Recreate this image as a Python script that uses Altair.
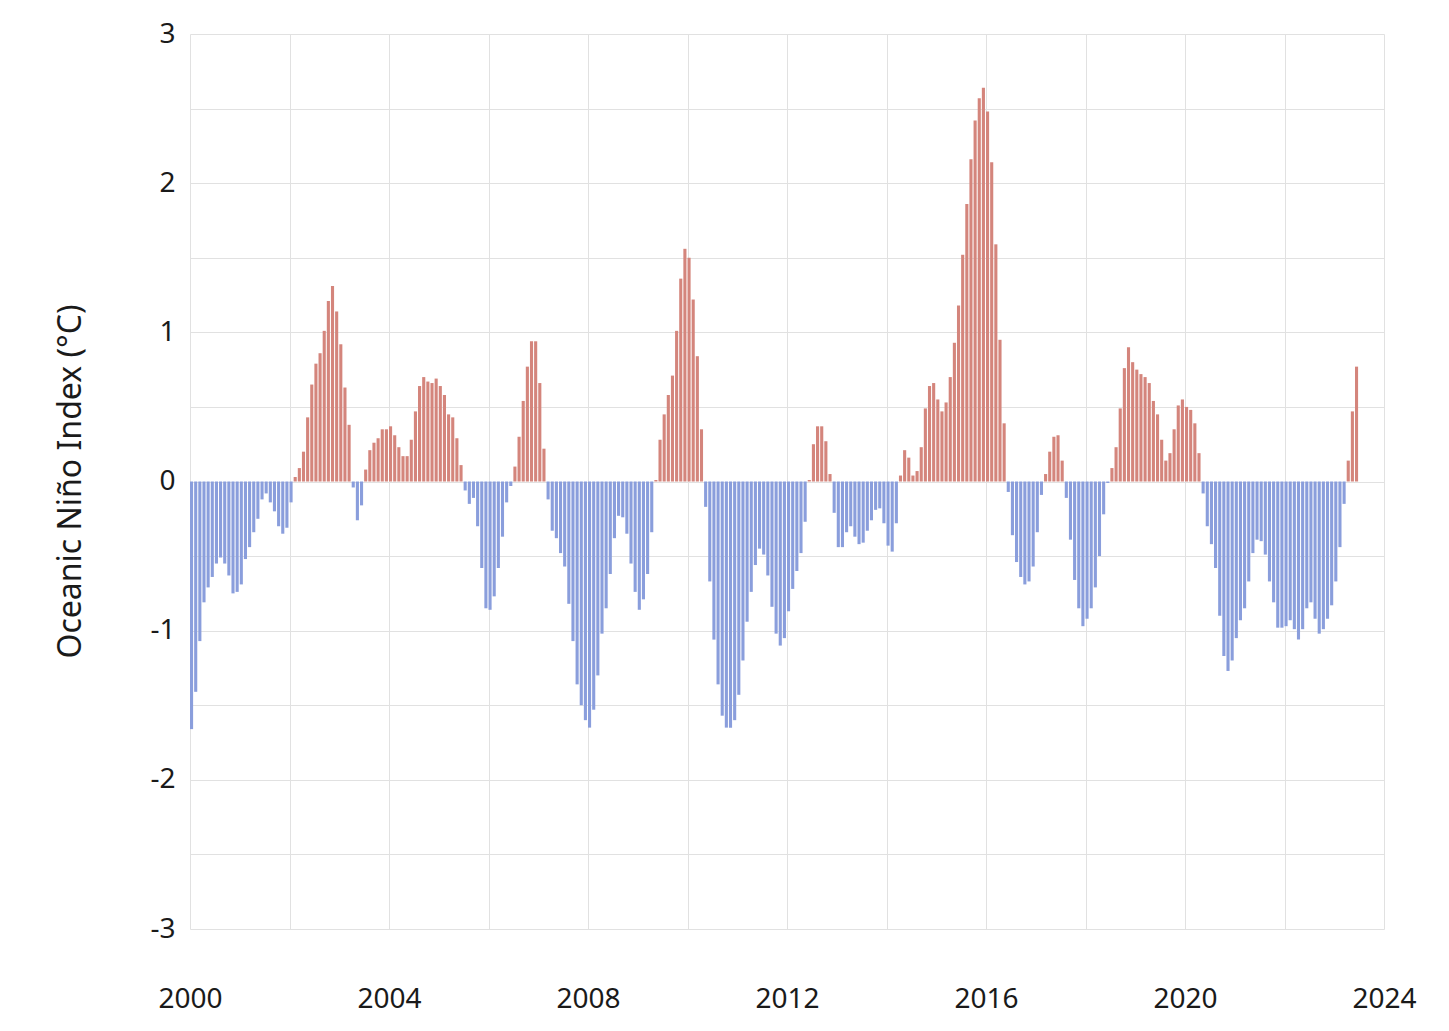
import altair as alt
import pandas as pd

# Monthly Oceanic Niño Index values
oni_2000 = [-1.66, -1.41, -1.07, -0.81, -0.71, -0.64, -0.55, -0.51, -0.55, -0.63, -0.75, -0.74]
oni_2001 = [-0.69, -0.52, -0.44, -0.34, -0.25, -0.12, -0.08, -0.14, -0.20, -0.30, -0.35, -0.31]
oni_2002 = [-0.14, 0.03, 0.09, 0.20, 0.43, 0.65, 0.79, 0.86, 1.01, 1.21, 1.31, 1.14]
oni_2003 = [0.92, 0.63, 0.38, -0.04, -0.26, -0.16, 0.08, 0.21, 0.26, 0.29, 0.35, 0.35]
oni_2004 = [0.37, 0.31, 0.23, 0.17, 0.17, 0.28, 0.47, 0.64, 0.70, 0.67, 0.66, 0.69]
oni_2005 = [0.64, 0.58, 0.45, 0.43, 0.29, 0.11, -0.06, -0.15, -0.11, -0.30, -0.58, -0.85]
oni_2006 = [-0.86, -0.77, -0.58, -0.37, -0.14, -0.03, 0.10, 0.30, 0.54, 0.77, 0.94, 0.94]
oni_2007 = [0.66, 0.22, -0.12, -0.33, -0.38, -0.48, -0.57, -0.82, -1.07, -1.36, -1.50, -1.60]
oni_2008 = [-1.65, -1.53, -1.30, -1.02, -0.85, -0.62, -0.38, -0.23, -0.24, -0.35, -0.55, -0.74]
oni_2009 = [-0.86, -0.79, -0.62, -0.34, 0.01, 0.28, 0.45, 0.58, 0.71, 1.01, 1.36, 1.56]
oni_2010 = [1.50, 1.22, 0.84, 0.35, -0.17, -0.67, -1.06, -1.36, -1.57, -1.65, -1.65, -1.60]
oni_2011 = [-1.43, -1.20, -0.94, -0.74, -0.56, -0.45, -0.49, -0.63, -0.84, -1.02, -1.10, -1.05]
oni_2012 = [-0.87, -0.72, -0.60, -0.48, -0.27, 0.01, 0.25, 0.37, 0.37, 0.27, 0.05, -0.21]
oni_2013 = [-0.44, -0.44, -0.34, -0.30, -0.37, -0.42, -0.41, -0.33, -0.26, -0.19, -0.18, -0.28]
oni_2014 = [-0.43, -0.47, -0.28, 0.04, 0.21, 0.16, 0.04, 0.07, 0.23, 0.49, 0.64, 0.66]
oni_2015 = [0.55, 0.47, 0.53, 0.70, 0.93, 1.18, 1.52, 1.86, 2.16, 2.42, 2.57, 2.64]
oni_2016 = [2.48, 2.14, 1.59, 0.95, 0.39, -0.07, -0.36, -0.54, -0.64, -0.69, -0.67, -0.57]
oni_2017 = [-0.34, -0.09, 0.05, 0.20, 0.30, 0.31, 0.14, -0.11, -0.39, -0.66, -0.85, -0.97]
oni_2018 = [-0.92, -0.85, -0.71, -0.50, -0.22, -0.01, 0.09, 0.23, 0.49, 0.76, 0.90, 0.80]
oni_2019 = [0.75, 0.72, 0.70, 0.66, 0.54, 0.45, 0.28, 0.14, 0.19, 0.35, 0.51, 0.55]
oni_2020 = [0.50, 0.48, 0.39, 0.19, -0.08, -0.30, -0.42, -0.58, -0.90, -1.17, -1.27, -1.20]
oni_2021 = [-1.05, -0.93, -0.85, -0.67, -0.48, -0.39, -0.40, -0.49, -0.67, -0.81, -0.98, -0.98]
oni_2022 = [-0.97, -0.93, -0.99, -1.06, -0.99, -0.85, -0.81, -0.92, -1.02, -0.99, -0.92, -0.83]
oni_2023 = [-0.67, -0.44, -0.15, 0.14, 0.47, 0.77]

years = list(range(2000, 2024))
yearly = [oni_2000, oni_2001, oni_2002, oni_2003, oni_2004, oni_2005, oni_2006, oni_2007,
          oni_2008, oni_2009, oni_2010, oni_2011, oni_2012, oni_2013, oni_2014, oni_2015,
          oni_2016, oni_2017, oni_2018, oni_2019, oni_2020, oni_2021, oni_2022, oni_2023]

x_ticks = list(range(2000, 2025, 2))
y_ticks = [-3 + 0.5 * i for i in range(13)]

RED = "#d4857c"
BLUE = "#8a9edc"

rows = []
for yr, vals in zip(years, yearly):
    for m, v in enumerate(vals):
        t = yr + m / 12.0
        rows.append({"t": t, "t2": t + 0.75 / 12.0, "oni": v})
df = pd.DataFrame(rows)

chart = (
    alt.Chart(df)
    .mark_bar()
    .encode(
        x=alt.X(
            "t:Q",
            scale=alt.Scale(domain=[2000, 2024], nice=False, zero=False),
            axis=alt.Axis(
                values=x_ticks,
                labelExpr="datum.value % 4 == 0 ? toString(datum.value) : ''",
                labelFlush=False,
                labelPadding=56,
                title=None,
            ),
        ),
        x2="t2:Q",
        y=alt.Y(
            "oni:Q",
            scale=alt.Scale(domain=[-3, 3], nice=False),
            axis=alt.Axis(
                values=y_ticks,
                labelExpr="datum.value % 1 == 0 ? toString(datum.value) : ''",
                labelPadding=15,
                title="Oceanic Niño Index (°C)",
                titleX=-120,
                titleY=447,
                titleAlign="center",
                titleBaseline="middle",
                titleAngle=270,
            ),
        ),
        y2=alt.datum(0),
        color=alt.condition("datum.oni >= 0", alt.value(RED), alt.value(BLUE)),
    )
    .properties(
        width=1194,
        height=895,
        autosize=alt.AutoSizeParams(type="none"),
        padding={"left": 182, "top": 26, "right": 50, "bottom": 100},
    )
    .configure_view(strokeWidth=0)
    .configure_axis(
        grid=True,
        gridColor="#e1e1e1",
        gridWidth=1,
        domain=False,
        ticks=False,
        labelFont="Noto Sans",
        labelFontSize=28,
        labelColor="#1a1a1a",
        titleFont="Noto Sans",
        titleFontSize=32,
        titleFontWeight="normal",
        titleColor="#1a1a1a",
    )
)

chart.save("out.html", embed_options={"renderer": "svg", "actions": False})
